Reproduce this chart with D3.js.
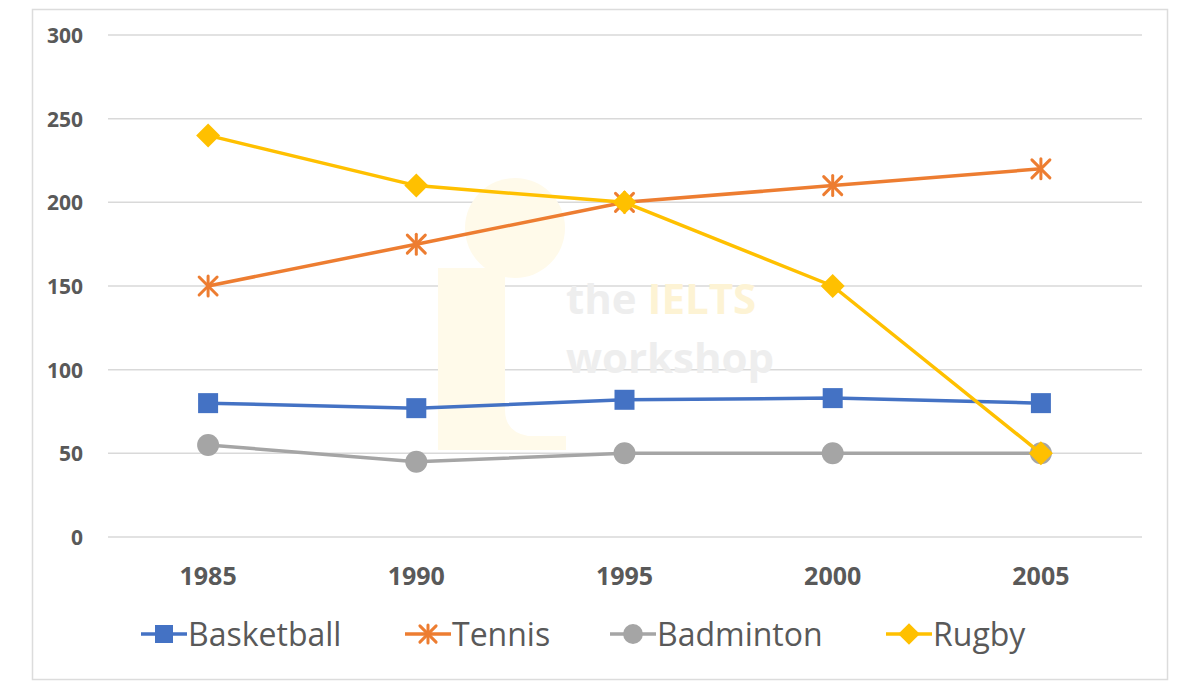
<!DOCTYPE html>
<html>
<head>
<meta charset="utf-8">
<script src="https://cdn.jsdelivr.net/npm/d3@7"></script>
<style>
  html, body { margin: 0; padding: 0; background: #ffffff; }
  svg { display: block; }
</style>
</head>
<body>
<svg id="chart" width="1200" height="686"></svg>
<script>
const years = ["1985", "1990", "1995", "2000", "2005"];
const basketball = [80, 77, 82, 83, 80];
const tennis = [150, 175, 200, 210, 220];
const badminton = [55, 45, 50, 50, 50];
const rugby = [240, 210, 200, 150, 50];
const yTicks = [0, 50, 100, 150, 200, 250, 300];
const seriesNames = ["Basketball", "Tennis", "Badminton", "Rugby"];

const series = [
  { name: seriesNames[0], values: basketball, color: "#4472C4", marker: "square" },
  { name: seriesNames[1], values: tennis, color: "#ED7D31", marker: "star" },
  { name: seriesNames[2], values: badminton, color: "#A5A5A5", marker: "circle" },
  { name: seriesNames[3], values: rugby, color: "#FFC000", marker: "diamond" }
];

const svg = d3.select("#chart");
const font = "'Open Sans', 'Noto Sans', sans-serif";

// outer chart border
svg.append("rect")
  .attr("x", 32.5).attr("y", 9.5).attr("width", 1135).attr("height", 670)
  .attr("fill", "#ffffff").attr("stroke", "#dcdcdc").attr("stroke-width", 1.5);

const plot = { left: 104, right: 1145, top: 35, bottom: 537 };

const x = d3.scaleBand().domain(years).range([plot.left, plot.right]);
const y = d3.scaleLinear().domain([0, 300]).range([plot.bottom, plot.top]);

// gridlines
svg.append("g")
  .selectAll("line")
  .data(yTicks)
  .join("line")
  .attr("x1", 108).attr("x2", 1142)
  .attr("y1", d => y(d)).attr("y2", d => y(d))
  .attr("stroke", "#d9d9d9").attr("stroke-width", 1.5);

// watermark (faint)
const wm = svg.append("g");
wm.append("circle").attr("cx", 515).attr("cy", 228).attr("r", 50).attr("fill", "#fffaea");
wm.append("path")
  .attr("d", "M438,268 L505,268 L505,410 Q505,432 528,436 L566,436 L566,450 L438,450 Z")
  .attr("fill", "#fffaea");
const wmStyle = t => t.attr("font-family", font).attr("font-weight", 700)
  .attr("font-size", 42).attr("fill", "#eeeeee");
const wm1 = wm.append("text").attr("x", 566).attr("y", 314).call(wmStyle);
wm1.append("tspan").text("the ");
wm1.append("tspan").attr("fill", "#fdf3d4").text("IELTS");
wm.append("text").attr("x", 566).attr("y", 373).call(wmStyle).text("workshop");

// y axis labels
const yAxis = d3.axisLeft(y).tickValues(yTicks).tickSize(0).tickPadding(0);
const gy = svg.append("g").attr("transform", "translate(83,0)").call(yAxis);
gy.select(".domain").remove();
gy.selectAll("text")
  .attr("font-family", font).attr("font-weight", 700).attr("font-size", 21)
  .attr("fill", "#595959").attr("dy", "0.35em");

// x axis labels
const xAxis = d3.axisBottom(x).tickSize(0).tickPadding(0);
const gx = svg.append("g").attr("transform", "translate(0,576)").call(xAxis);
gx.select(".domain").remove();
gx.selectAll("text")
  .attr("font-family", font).attr("font-weight", 700).attr("font-size", 25)
  .attr("fill", "#595959").attr("dy", "0.35em");

function drawMarker(g, type, color, cx, cy, scale) {
  const s = scale || 1;
  if (type === "square") {
    const h = 10 * s;
    g.append("rect").attr("x", cx - h).attr("y", cy - h).attr("width", 2 * h).attr("height", 2 * h)
      .attr("fill", color);
  } else if (type === "circle") {
    g.append("circle").attr("cx", cx).attr("cy", cy).attr("r", 11 * s).attr("fill", color);
  } else if (type === "diamond") {
    const h = 12 * s;
    g.append("path")
      .attr("d", `M${cx},${cy - h} L${cx + h},${cy} L${cx},${cy + h} L${cx - h},${cy} Z`)
      .attr("fill", color);
  } else if (type === "star") {
    const h = 9 * s;
    const sg = g.append("g").attr("stroke", color).attr("stroke-width", 3).attr("stroke-linecap", "round");
    sg.append("line").attr("x1", cx - h).attr("y1", cy - h).attr("x2", cx + h).attr("y2", cy + h);
    sg.append("line").attr("x1", cx - h).attr("y1", cy + h).attr("x2", cx + h).attr("y2", cy - h);
    sg.append("line").attr("x1", cx).attr("y1", cy - h - 1).attr("x2", cx).attr("y2", cy + h + 1);
  }
}

const line = d3.line()
  .x((d, i) => x(years[i]) + x.bandwidth() / 2)
  .y(d => y(d));

series.forEach(s => {
  const g = svg.append("g");
  g.append("path").attr("d", line(s.values))
    .attr("fill", "none").attr("stroke", s.color).attr("stroke-width", 3.5)
    .attr("stroke-linejoin", "round");
  s.values.forEach((v, i) => {
    drawMarker(g, s.marker, s.color, x(years[i]) + x.bandwidth() / 2, y(v));
  });
});

// legend
const legendX = [141, 405, 610, 886];
const legendY = 634;
series.forEach((s, i) => {
  const g = svg.append("g");
  const lx = legendX[i];
  g.append("line").attr("x1", lx).attr("x2", lx + 46).attr("y1", legendY).attr("y2", legendY)
    .attr("stroke", s.color).attr("stroke-width", 3.5);
  drawMarker(g, s.marker, s.color, lx + 23, legendY, 0.9);
  g.append("text").attr("x", lx + 47).attr("y", legendY).attr("dy", "0.36em")
    .attr("font-family", font).attr("font-size", 32).attr("fill", "#595959")
    .text(s.name);
});
</script>
</body>
</html>
